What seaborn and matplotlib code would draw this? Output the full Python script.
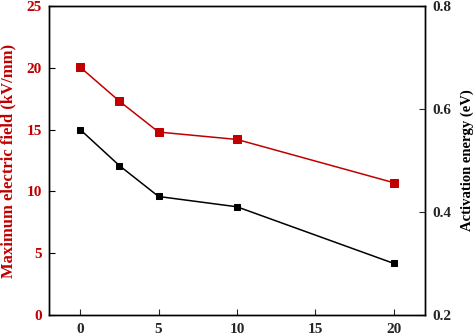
import matplotlib
matplotlib.use("Agg")
import matplotlib.pyplot as plt
import seaborn as sns
import pandas as pd

content = [0, 2.5, 5, 10, 20]
max_field = [20.05, 17.3, 14.8, 14.2, 10.7]
activation_energy = [0.56, 0.49, 0.43, 0.41, 0.30]

sns.set_style("ticks")
plt.rcParams["font.family"] = ["Liberation Serif", "DejaVu Serif"]
plt.rcParams["font.weight"] = "bold"

red = "#c00000"
df = pd.DataFrame({"content": content, "field": max_field, "ea": activation_energy})

fig = plt.figure(figsize=(4.74, 3.35), dpi=100)
ax = fig.add_axes([0.103, 0.06, 0.794, 0.922])
ax2 = ax.twinx()

sns.lineplot(data=df, x="content", y="field", ax=ax, color=red, marker="s",
             markersize=6, markeredgecolor=red, linewidth=1.1)
sns.lineplot(data=df, x="content", y="ea", ax=ax2, color="black", marker="s",
             markersize=4.5, markeredgecolor="black", linewidth=1.1)

ax.set_xlim(-2, 22)
ax.set_ylim(0, 25)
ax2.set_ylim(0.2, 0.8)
ax.set_xticks([0, 5, 10, 15, 20])
ax.set_yticks([0, 5, 10, 15, 20, 25])
ax2.set_yticks([0.2, 0.4, 0.6, 0.8])
ax2.set_yticklabels(["0.2", "0.4", "0.6", "0.8"])

ax.set_xlabel("")
ax.set_ylabel("Maximum electric field (kV/mm)", color=red, fontsize=12,
              fontweight="bold", labelpad=7)
ax2.set_ylabel("Activation energy (eV)", color="black", fontsize=10.5,
               fontweight="bold", labelpad=7)

ax.tick_params(axis="x", direction="in", length=4, labelsize=11, pad=6,
               top=False)
ax.tick_params(axis="y", direction="in", length=4, labelsize=11,
               labelcolor=red, right=False, pad=5)
ax.tick_params(axis="y", color="black")
ax2.tick_params(axis="y", direction="in", length=4, labelsize=11, pad=5)
for lab in ax.get_xticklabels() + ax.get_yticklabels() + ax2.get_yticklabels():
    lab.set_fontweight("bold")

for a in (ax, ax2):
    for s in a.spines.values():
        s.set_linewidth(1.0)
        s.set_color("black")

fig.savefig("out.png", dpi=100)
